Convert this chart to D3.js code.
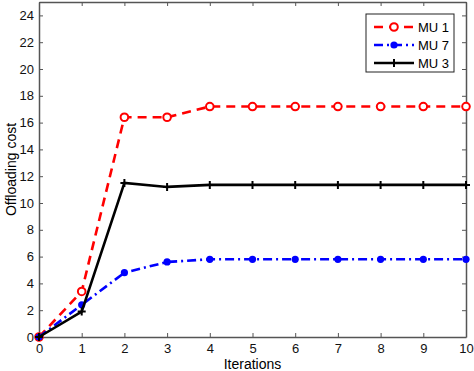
<!DOCTYPE html>
<html>
<head>
<meta charset="utf-8">
<script src="https://cdn.jsdelivr.net/npm/d3@7"></script>
<style>
  body { margin: 0; background: #fff; }
  svg text { font-family: "Liberation Sans", Arial, sans-serif; }
</style>
</head>
<body>
<div id="chart"></div>
<script>
// data
const iterations = [0, 1, 2, 3, 4, 5, 6, 7, 8, 9, 10];
const mu1 = [0, 3.4, 16.4, 16.4, 17.2, 17.2, 17.2, 17.2, 17.2, 17.2, 17.2];
const mu7 = [0, 2.4, 4.8, 5.6, 5.8, 5.8, 5.8, 5.8, 5.8, 5.8, 5.8];
const mu3 = [0, 1.9, 11.5, 11.2, 11.35, 11.35, 11.35, 11.35, 11.35, 11.35, 11.35];
const yTicks = [0, 2, 4, 6, 8, 10, 12, 14, 16, 18, 20, 22, 24];
const seriesNames = ["MU 1", "MU 7", "MU 3"];

const svgWidth = 474, svgHeight = 371;
const margin = {top: 2, left: 39, bottom: 34, right: 8};
const width = svgWidth - margin.left - margin.right;
const height = svgHeight - margin.top - margin.bottom;

const svg = d3.select("#chart").append("svg")
  .attr("width", svgWidth)
  .attr("height", svgHeight)
  .append("g")
  .attr("transform", "translate(" + margin.left + "," + margin.top + ")");

const x = d3.scaleLinear().domain([0, 10]).range([0, width]);
const y = d3.scaleLinear().domain([0, 25]).range([height, 0]);

const axisColor = "#555";
const fmt = d => d;

// axes: ticks inside, box all round
const axB = svg.append("g").attr("transform", "translate(0," + height + ")")
  .call(d3.axisBottom(x).tickValues(iterations).tickSizeInner(-4).tickSizeOuter(0).tickPadding(7).tickFormat(fmt));
const axT = svg.append("g")
  .call(d3.axisTop(x).tickValues(iterations).tickSizeInner(-4).tickSizeOuter(0).tickFormat(""));
const axL = svg.append("g")
  .call(d3.axisLeft(y).tickValues(yTicks).tickSizeInner(-4).tickSizeOuter(0).tickPadding(5).tickFormat(fmt));
const axR = svg.append("g").attr("transform", "translate(" + width + ",0)")
  .call(d3.axisRight(y).tickValues(yTicks).tickSizeInner(-4).tickSizeOuter(0).tickFormat(""));

[axB, axT, axL, axR].forEach(a => {
  a.select(".domain").attr("stroke", axisColor).attr("stroke-width", 1.5);
  a.selectAll(".tick line").attr("stroke", axisColor);
  a.selectAll(".tick text").attr("fill", "#111").style("font-size", "13px");
});

svg.append("text")
  .attr("x", width / 2).attr("y", height + 32)
  .attr("text-anchor", "middle")
  .style("font-size", "14px")
  .text("Iterations");

svg.append("text")
  .attr("transform", "translate(" + (-23) + "," + (height / 2) + ") rotate(-90)")
  .attr("text-anchor", "middle")
  .style("font-size", "14px")
  .text("Offloading cost");

const line = d3.line().x((d, i) => x(iterations[i])).y(d => y(d));

// MU 1 red dashed, open circles
svg.append("path").datum(mu1)
  .attr("d", line).attr("fill", "none")
  .attr("stroke", "#f00").attr("stroke-width", 2.6).attr("stroke-dasharray", "9,6");
svg.append("g").selectAll("circle").data(mu1).enter().append("circle")
  .attr("cx", (d, i) => x(iterations[i])).attr("cy", d => y(d))
  .attr("r", 3.8).attr("fill", "#fff").attr("stroke", "#f00").attr("stroke-width", 2);

// MU 7 blue dash-dot, filled dots
svg.append("path").datum(mu7)
  .attr("d", line).attr("fill", "none")
  .attr("stroke", "#00f").attr("stroke-width", 2.6).attr("stroke-dasharray", "9,4,2,4");
svg.append("g").selectAll("circle").data(mu7).enter().append("circle")
  .attr("cx", (d, i) => x(iterations[i])).attr("cy", d => y(d))
  .attr("r", 3.6).attr("fill", "#00f");

// MU 3 black solid, plus markers
svg.append("path").datum(mu3)
  .attr("d", line).attr("fill", "none")
  .attr("stroke", "#000").attr("stroke-width", 2.6);
svg.append("g").selectAll("path").data(mu3).enter().append("path")
  .attr("d", (d, i) => {
    const cx = x(iterations[i]), cy = y(d);
    return "M" + (cx - 4) + "," + cy + "H" + (cx + 4) + "M" + cx + "," + (cy - 4) + "V" + (cy + 4);
  })
  .attr("stroke", "#000").attr("stroke-width", 2);

// legend
const lg = svg.append("g").attr("transform", "translate(" + (width - 100) + ",12)");
lg.append("rect").attr("width", 88).attr("height", 58)
  .attr("fill", "#fff").attr("stroke", "#222").attr("stroke-width", 1);
const styles = [
  {c: "#f00", dash: "9,6", mark: "o"},
  {c: "#00f", dash: "9,4,2,4", mark: "dot"},
  {c: "#000", dash: null, mark: "+"}
];
seriesNames.forEach((name, i) => {
  const yy = 13 + i * 18, s = styles[i];
  lg.append("line").attr("x1", 8).attr("x2", 48).attr("y1", yy).attr("y2", yy)
    .attr("stroke", s.c).attr("stroke-width", 2.6).attr("stroke-dasharray", s.dash);
  if (s.mark === "o") lg.append("circle").attr("cx", 28).attr("cy", yy).attr("r", 3.8)
    .attr("fill", "#fff").attr("stroke", s.c).attr("stroke-width", 2);
  if (s.mark === "dot") lg.append("circle").attr("cx", 28).attr("cy", yy).attr("r", 3.6).attr("fill", s.c);
  if (s.mark === "+") lg.append("path").attr("d", "M24," + yy + "H32M28," + (yy - 4) + "V" + (yy + 4))
    .attr("stroke", s.c).attr("stroke-width", 2);
  lg.append("text").attr("x", 52).attr("y", yy).attr("dy", "0.35em")
    .style("font-size", "13px").text(name);
});
</script>
</body>
</html>
